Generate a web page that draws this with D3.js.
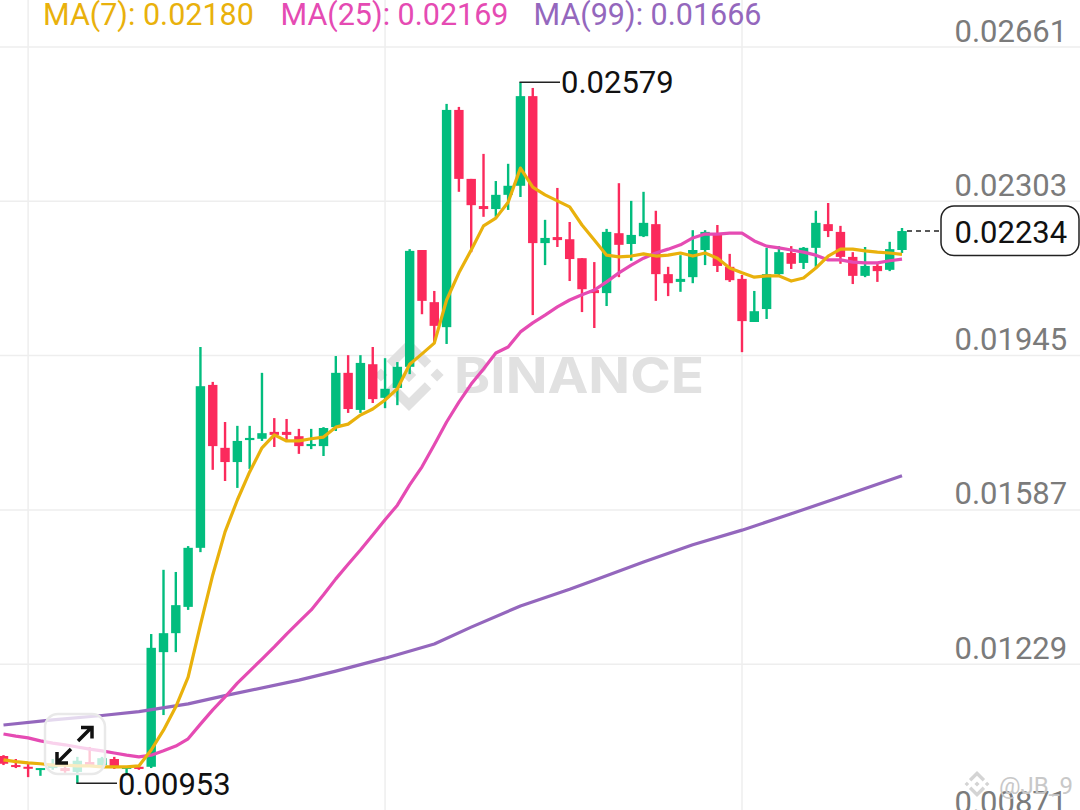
<!DOCTYPE html>
<html lang="en">
<head>
<meta charset="UTF-8">
<script src="https://d3js.org/d3.v7.min.js"></script>
<title>Candlestick chart</title>
<style>
  html, body { margin: 0; padding: 0; background: #fff; overflow: hidden; }
  svg { display: block; }
  text { font-family: Roboto, "Noto Sans", sans-serif; }
</style>
</head>
<body>
<script>
// Candles, oldest first
const opens = [0.01016,0.00995,0.00991,0.00984,0.00988,0.00988,0.00979,0.01002,0.00995,0.01009,0.00986,0.00991,0.00991,0.01257,0.01301,0.01362,0.01499,0.01877,0.01731,0.01698,0.01749,0.01752,0.01768,0.01768,0.01758,0.01735,0.01735,0.01779,0.01905,0.01819,0.01925,0.01847,0.01870,0.01919,0.02190,0.02069,0.02011,0.02515,0.02355,0.02292,0.02285,0.02318,0.02339,0.02547,0.02206,0.02220,0.02215,0.02171,0.02097,0.02090,0.02229,0.02204,0.02222,0.02250,0.02134,0.02116,0.02127,0.02190,0.02229,0.02151,0.02123,0.02023,0.02053,0.02134,0.02183,0.02160,0.02195,0.02250,0.02232,0.02174,0.02130,0.02153,0.02144,0.02190];
const highs = [0.01018,0.01009,0.01000,0.00988,0.01009,0.00993,0.01014,0.01037,0.01014,0.01014,0.00991,0.00993,0.01299,0.01448,0.01443,0.01503,0.01965,0.01884,0.01791,0.01782,0.01782,0.01905,0.01800,0.01798,0.01775,0.01775,0.01779,0.01944,0.01946,0.01946,0.01965,0.01939,0.01930,0.02192,0.02190,0.02095,0.02529,0.02522,0.02355,0.02413,0.02350,0.02390,0.02579,0.02566,0.02260,0.02334,0.02255,0.02171,0.02162,0.02239,0.02345,0.02304,0.02325,0.02281,0.02151,0.02178,0.02236,0.02236,0.02248,0.02181,0.02132,0.02095,0.02195,0.02199,0.02199,0.02197,0.02281,0.02299,0.02246,0.02185,0.02197,0.02160,0.02209,0.02241];
const lows = [0.00995,0.00988,0.00967,0.00970,0.00984,0.00977,0.00953,0.00991,0.00993,0.00986,0.00972,0.00984,0.00988,0.01111,0.01257,0.01355,0.01489,0.01680,0.01654,0.01638,0.01682,0.01747,0.01733,0.01749,0.01717,0.01728,0.01712,0.01770,0.01812,0.01812,0.01835,0.01823,0.01830,0.01902,0.02041,0.01974,0.01972,0.02325,0.02185,0.02267,0.02267,0.02283,0.02313,0.02039,0.02155,0.02197,0.02118,0.02046,0.02009,0.02060,0.02127,0.02165,0.02220,0.02072,0.02083,0.02093,0.02113,0.02155,0.02139,0.02116,0.01953,0.02023,0.02030,0.02132,0.02146,0.02146,0.02151,0.02220,0.02158,0.02111,0.02127,0.02116,0.02141,0.02183];
const closes = [0.00998,0.00991,0.00988,0.00988,0.00998,0.00981,0.01005,0.00995,0.01011,0.00988,0.00991,0.00986,0.01267,0.01301,0.01366,0.01499,0.01874,0.01735,0.01698,0.01747,0.01754,0.01765,0.01761,0.01761,0.01735,0.01740,0.01777,0.01905,0.01821,0.01928,0.01844,0.01868,0.01919,0.02188,0.02072,0.02014,0.02515,0.02355,0.02294,0.02285,0.02318,0.02339,0.02547,0.02206,0.02218,0.02213,0.02169,0.02099,0.02090,0.02232,0.02202,0.02225,0.02253,0.02134,0.02113,0.02123,0.02190,0.02232,0.02153,0.02120,0.02025,0.02048,0.02134,0.02185,0.02158,0.02195,0.02253,0.02234,0.02174,0.02130,0.02153,0.02141,0.02192,0.02234];

// Moving averages
const ma7 = [0.01007,0.01003,0.01000,0.00998,0.00995,0.00995,0.00993,0.00993,0.00991,0.00991,0.00991,0.00993,0.01030,0.01076,0.01130,0.01199,0.01320,0.01436,0.01536,0.01610,0.01675,0.01731,0.01761,0.01747,0.01747,0.01752,0.01756,0.01779,0.01786,0.01807,0.01821,0.01842,0.01868,0.01925,0.01949,0.01974,0.02074,0.02137,0.02190,0.02246,0.02264,0.02301,0.02380,0.02336,0.02318,0.02304,0.02290,0.02248,0.02213,0.02178,0.02174,0.02176,0.02181,0.02176,0.02178,0.02183,0.02176,0.02183,0.02171,0.02148,0.02137,0.02127,0.02130,0.02130,0.02118,0.02125,0.02148,0.02176,0.02192,0.02192,0.02188,0.02185,0.02183,0.02180];
const ma25 = [0.01067,0.01062,0.01058,0.01051,0.01046,0.01042,0.01037,0.01032,0.01028,0.01023,0.01018,0.01014,0.01018,0.01028,0.01039,0.01056,0.01090,0.01123,0.01153,0.01185,0.01213,0.01241,0.01269,0.01299,0.01327,0.01355,0.01390,0.01427,0.01461,0.01494,0.01529,0.01564,0.01598,0.01645,0.01687,0.01738,0.01791,0.01837,0.01879,0.01914,0.01951,0.01965,0.02000,0.02021,0.02039,0.02058,0.02074,0.02086,0.02097,0.02116,0.02137,0.02155,0.02171,0.02183,0.02192,0.02202,0.02218,0.02227,0.02227,0.02229,0.02229,0.02211,0.02199,0.02195,0.02190,0.02185,0.02178,0.02167,0.02167,0.02162,0.02160,0.02160,0.02165,0.02169];
const ma99Index = [0,4,8,11,15,18,24,27,31,35,38,42,46,48,52,56,60,64,68,73];
const ma99 = [0.01088,0.01100,0.01110,0.01119,0.01137,0.01156,0.01192,0.01213,0.01243,0.01276,0.01315,0.01364,0.01403,0.01424,0.01466,0.01506,0.01540,0.01578,0.01617,0.01666];

const priceTicks = [0.02661,0.02303,0.01945,0.01587,0.01229,0.00871];
const gridCandles = [2,31,60];
const legendItems = ['MA(7): 0.02180','MA(25): 0.02169','MA(99): 0.01666'];
const lastPrice = 0.02234;
const highIndex = 42;
const lowIndex = 6;

const width = 1080, height = 810;
const UP = '#02bd7e', DOWN = '#fb2a5c';
const fmt = d3.format('.5f');

const x = d3.scaleLinear().domain([0, closes.length - 1]).range([3.5, 902]);
const y = d3.scaleLinear().domain([0.00871, 0.02661]).range([818.5, 47]);

const svg = d3.select('body').append('svg')
    .attr('width', width)
    .attr('height', height)
    .attr('viewBox', `0 0 ${width} ${height}`);

// grid
svg.append('g').selectAll('line').data(priceTicks).enter().append('line')
    .attr('x1', 0).attr('x2', width)
    .attr('y1', d => y(d)).attr('y2', d => y(d))
    .attr('stroke', '#eeeeee').attr('stroke-width', 1.5);
svg.append('g').selectAll('line').data(gridCandles).enter().append('line')
    .attr('x1', d => x(d)).attr('x2', d => x(d))
    .attr('y1', 0).attr('y2', height)
    .attr('stroke', '#eeeeee').attr('stroke-width', 1.5);

// watermark
const mark = svg.append('g').attr('fill', '#e1e1e1');
function binanceLogo(g, cx, cy, s) {
    const dia = (dx, dy, r) => `M${cx + dx * s},${cy + dy * s - r * s}L${cx + dx * s + r * s},${cy + dy * s}L${cx + dx * s},${cy + dy * s + r * s}L${cx + dx * s - r * s},${cy + dy * s}Z`;
    const chev = (sign) => `M${cx},${cy + sign * 1 * s}L${cx + .62 * s},${cy + sign * .38 * s}L${cx + .44 * s},${cy + sign * .2 * s}L${cx},${cy + sign * .64 * s}L${cx - .44 * s},${cy + sign * .2 * s}L${cx - .62 * s},${cy + sign * .38 * s}Z`;
    g.append('path').attr('d', dia(0, 0, .2) + dia(-.78, 0, .18) + dia(.78, 0, .18) + chev(-1) + chev(1));
}
binanceLogo(mark, 409, 375, 36);
mark.append('text')
    .attr('x', 454).attr('y', 393)
    .attr('textLength', 250).attr('lengthAdjust', 'spacingAndGlyphs')
    .style('font-family', 'Inter, Roboto, sans-serif')
    .style('font-weight', 700).style('font-size', '50px')
    .text('BINANCE');

// candles
const candles = svg.append('g').selectAll('g').data(closes).enter().append('g')
    .attr('fill', (d, i) => d >= opens[i] ? UP : DOWN)
    .attr('stroke', (d, i) => d >= opens[i] ? UP : DOWN);
candles.append('line')
    .attr('x1', (d, i) => x(i)).attr('x2', (d, i) => x(i))
    .attr('y1', (d, i) => y(highs[i])).attr('y2', (d, i) => y(lows[i]))
    .attr('stroke-width', 2.4);
candles.append('rect')
    .attr('stroke', 'none')
    .attr('x', (d, i) => x(i) - 4.7)
    .attr('width', 9.4)
    .attr('y', (d, i) => y(Math.max(d, opens[i])))
    .attr('height', (d, i) => Math.max(2, Math.abs(y(d) - y(opens[i]))));

// moving averages
const line = d3.line().x(d => x(d[0])).y(d => y(d[1]));
function drawMa(indexes, values, color) {
    svg.append('path')
        .attr('d', line(indexes.map((k, j) => [k, values[j]])))
        .attr('fill', 'none')
        .attr('stroke', color)
        .attr('stroke-width', 3.2)
        .attr('stroke-linejoin', 'round');
}
drawMa(ma99Index, ma99, '#9467bd');
drawMa(d3.range(ma25.length), ma25, '#e54bb3');
drawMa(d3.range(ma7.length), ma7, '#e9b10c');

// price axis
const axis = d3.axisRight(y).tickValues(priceTicks).tickFormat(fmt).tickSize(0).tickPadding(0);
const axisG = svg.append('g').attr('transform', 'translate(954.5,0)').call(axis);
axisG.select('.domain').remove();
axisG.selectAll('text')
    .attr('dy', -6)
    .attr('fill', '#7b7b7b')
    .style('font-size', '31px');

// legend
const legendColors = ['#e9b10c','#e54bb3','#9467bd'];
const legendX = [43, 280.5, 533.5];
svg.append('g').selectAll('text').data(legendItems).enter().append('text')
    .attr('x', (d, i) => legendX[i])
    .attr('y', 25)
    .attr('fill', (d, i) => legendColors[i])
    .style('font-size', '30.5px')
    .text(d => d);

// high / low callouts
function callout(index, price, xEnd, textY) {
    svg.append('line')
        .attr('x1', x(index) - 1).attr('x2', xEnd)
        .attr('y1', y(price)).attr('y2', y(price))
        .attr('stroke', '#222').attr('stroke-width', 1.5);
    svg.append('text')
        .attr('x', xEnd + 1).attr('y', textY)
        .attr('fill', '#111')
        .style('font-size', '31px')
        .text(fmt(price));
}
callout(highIndex, highs[highIndex], 560, 93);
callout(lowIndex, lows[lowIndex], 117, 795);

// last price tag
svg.append('line')
    .attr('x1', x(closes.length - 1) + 5).attr('x2', 941)
    .attr('y1', y(lastPrice)).attr('y2', y(lastPrice))
    .attr('stroke', '#222').attr('stroke-width', 1.5)
    .attr('stroke-dasharray', '5 4');
svg.append('rect')
    .attr('x', 941).attr('y', 206).attr('width', 138).attr('height', 49.5)
    .attr('rx', 13)
    .attr('fill', '#fff').attr('stroke', '#222').attr('stroke-width', 1.5);
svg.append('text')
    .attr('x', 954.5).attr('y', 243)
    .attr('fill', '#111')
    .style('font-size', '31px')
    .text(fmt(lastPrice));

// expand button
const btn = svg.append('g');
btn.append('rect')
    .attr('x', 45).attr('y', 714).attr('width', 60).attr('height', 60)
    .attr('rx', 13)
    .attr('fill', 'rgba(255,255,255,0.75)')
    .attr('stroke', '#e9e9e9').attr('stroke-width', 2.5);
btn.append('path')
    .attr('d', 'M78,741L92,727M81,727.5H92V738.5M71,749L57,763M57,752V763H68')
    .attr('fill', 'none').attr('stroke', '#111').attr('stroke-width', 3.5);

// author tag
const tag = svg.append('g').attr('fill', '#d4d4d4');
binanceLogo(tag, 977, 784, 13);
tag.append('text')
    .attr('x', 999).attr('y', 794)
    .attr('fill', '#c8c8c8')
    .style('font-size', '24px')
    .text('@JB_9');
</script>
</body>
</html>
